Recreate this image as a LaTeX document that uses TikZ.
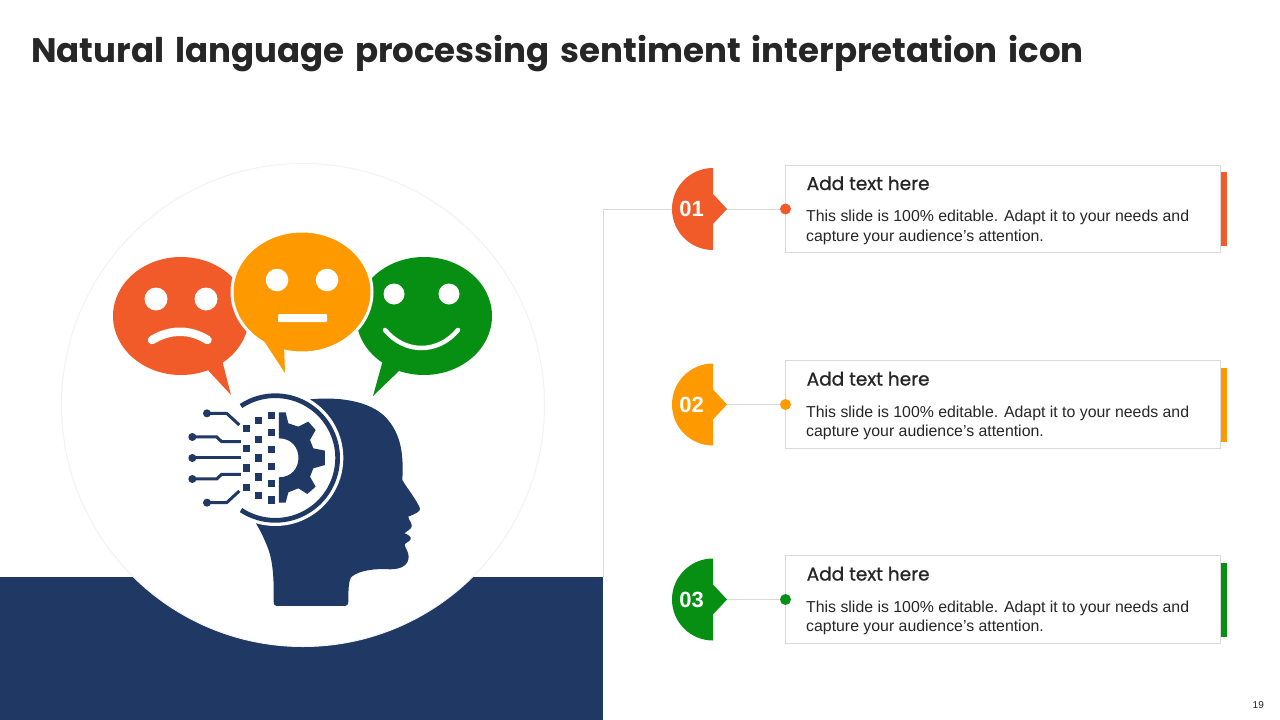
\documentclass[tikz,border=0pt]{standalone}
\usepackage{fontspec}
\setmainfont{Liberation Sans}
\newfontfamily\headfont[WordSpace=1.5]{Poppins}
\newfontfamily\subfont[FakeBold=0.9]{Poppins}
\definecolor{navy}{HTML}{1F3864}
\definecolor{redish}{HTML}{F15A29}
\definecolor{orangeish}{HTML}{FF9900}
\definecolor{greenish}{HTML}{078F14}
\definecolor{linegray}{HTML}{D9D9D9}
\definecolor{inkgray}{HTML}{262626}
\tikzset{
  bubble/.style={fill=#1},
  eye/.style={fill=white},
  trace/.style={draw=navy,line width=3pt},
  textbox/.style={draw=linegray,fill=white,line width=0.8pt,minimum width=435.5pt,minimum height=87.5pt,inner sep=0pt},
  badge/.style={circle,minimum size=82pt,inner sep=0pt},
  numtext/.style={text=white,font=\bfseries\fontsize{22}{26}\selectfont,inner sep=0pt},
  headtext/.style={text=inkgray,anchor=base west,font=\subfont\fontsize{18.5}{22}\selectfont,inner sep=0pt},
  bodytext/.style={text=inkgray,anchor=base west,font=\fontsize{15.85}{19.5}\selectfont,inner sep=0pt,align=left},
  dotnode/.style={circle,minimum size=11pt,inner sep=0pt,fill=#1},
}
\begin{document}
\begin{tikzpicture}[x=1pt,y=-1pt]
  \useasboundingbox (0,0) rectangle (1280,720);
  \fill[white] (0,0) rectangle (1280,720);
  \fill[navy] (0,577) rectangle (603,720);
  \fill[white] (303,405) circle (241.5);
  \draw[black!5,line width=1pt] (303,405) circle (241.5);

  \node[anchor=base west,inner sep=0pt,text=inkgray,font=\headfont\bfseries\fontsize{34}{40}\selectfont] (title) at (31,62)
    {Natural language processing sentiment interpretation icon};
  \node[anchor=base east,inner sep=0pt,text=inkgray,font=\fontsize{10}{12}\selectfont] (pagenum) at (1264,708) {19};

  \fill[bubble=redish] (181,316) circle[x radius=68,y radius=59];
  \fill[bubble=redish] (206,368) -- (231,395) -- (222,360) -- cycle;
  \fill[eye] (156,299) circle (11.5) (206,299) circle (11.5);
  \draw[white,line width=8.5pt,line cap=round] (152,340) .. controls (170,329) and (190,329) .. (207.5,340);

  \fill[bubble=greenish] (424,316) circle[x radius=68,y radius=59];
  \fill[bubble=greenish] (383,360) -- (373,396) -- (400,370) -- cycle;
  \fill[eye] (394,294) circle (10.5) (449,294) circle (10.5);
  \draw[white,line width=4.5pt,line cap=round] (385,330) .. controls (405,354) and (438,354) .. (458,330);

  \fill[bubble=orangeish,draw=white,line width=3pt] (302,292) circle[x radius=70,y radius=61];
  \fill[bubble=orangeish] (262,338) -- (285,373) -- (284,345) -- cycle;
  \fill[eye] (277,280) circle (11.3) (327,280) circle (11.3);
  \fill[white,rounded corners=1pt] (278,314) rectangle (327,322);

  \begin{scope}[shift={(170,380)},x=0.3333pt,y=-0.3333pt]
    \fill[navy] (420,58) .. controls (500,50) and (600,60) .. (650,115)
      .. controls (690,160) and (702,215) .. (697,300)
      .. controls (715,330) and (740,360) .. (750,385)
      .. controls (752,395) and (735,402) .. (715,410)
      .. controls (715,420) and (728,430) .. (725,440)
      .. controls (722,450) and (710,452) .. (703,460)
      .. controls (712,462) and (725,470) .. (722,478)
      .. controls (718,486) and (705,488) .. (704,495)
      .. controls (706,505) and (716,515) .. (716,530)
      .. controls (716,555) and (695,568) .. (660,568)
      .. controls (620,565) and (570,570) .. (545,590)
      .. controls (535,600) and (535,640) .. (535,665)
      .. controls (535,675) and (530,678) .. (520,678)
      -- (325,678) .. controls (315,678) and (311,675) .. (311,665)
      .. controls (312,600) and (310,540) .. (290,495)
      .. controls (280,470) and (270,450) .. (258,430) -- cycle;
    \fill[white] (316,234) circle (204);
    \draw[navy,line width=4.7pt] (213,78) arc[start angle=-123.4,end angle=123.4,radius=187];
    \fill[navy] (327,97) -- (347,97) -- (355,130) -- (385,140) -- (415,125) -- (437,150)
      -- (420,180) -- (430,205) -- (465,212) -- (465,255) -- (430,265) -- (420,290)
      -- (437,320) -- (412,342) -- (385,325) -- (355,337) -- (347,368) -- (327,368)
      -- (327,292) .. controls (405,292) and (405,175) .. (327,175) -- cycle;
    \foreach \px/\py in {230/145,230/205,230/264,230/323,
                         266/121,266/178,266/234,266/291,266/347,
                         304/107,304/158,304/209,304/260,304/311,304/360}
      \fill[navy] (\px-11,\py-11) rectangle (\px+11,\py+11);
    \draw[trace] (111,100) -- (170,100) -- (208,135);
    \draw[trace] (67,171) -- (140,171) -- (155,185) -- (213,185);
    \draw[trace] (67,234) -- (213,234);
    \draw[trace] (67,297) -- (140,297) -- (155,283) -- (213,283);
    \draw[trace] (111,368) -- (170,368) -- (208,333);
    \foreach \px/\py in {111/100,67/171,67/234,67/297,111/368}
      \fill[navy] (\px,\py) circle (12);
  \end{scope}

  \coordinate (trunk) at (603,577);
  \foreach \i/\y/\c/\n in {1/209/redish/01,2/404.5/orangeish/02,3/599.5/greenish/03}{
    \node[textbox] (box\i) at (1003,\y) {};
    \fill[\c] (1221,\y-37) rectangle (1227,\y+37);
    \node[badge] (badge\i) at (713,\y) {};
    \coordinate (tip\i) at (727,\y);
    \node[dotnode=\c] (dot\i) at (785.5,\y) {};
    \path[draw=linegray,line width=0.8pt] (tip\i) edge (dot\i);
    \fill[\c] (713,\y-41) arc[start angle=270,end angle=90,radius=41] -- (713,\y+15) -- (tip\i) -- (713,\y-15) -- cycle;
    \node[numtext] (num\i) at (691.5,\y) {\n};
    \node[headtext] (head\i) at (806.5,\y-19) {Add text here};
    \node[bodytext] (body\i) at (806,\y+32) {This slide is 100\% editable. Adapt it to your needs and\\capture your audience’s attention.};
  }
  \path[draw=linegray,line width=0.8pt] (trunk) |- (badge1.west);
\end{tikzpicture}
\end{document}
